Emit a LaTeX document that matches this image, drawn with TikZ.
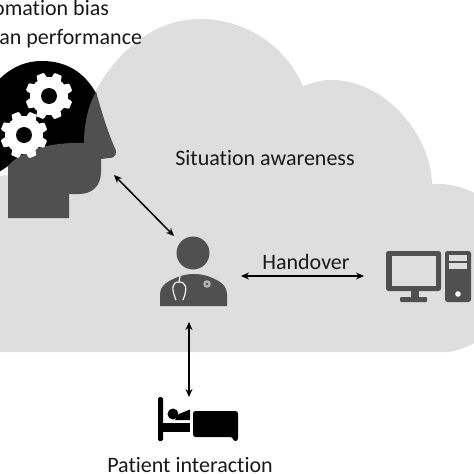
\documentclass[tikz,border=0pt]{standalone}
\usepackage{fontspec}
\setmainfont[Ligatures=NoCommon]{Carlito}
\usetikzlibrary{arrows.meta}
\definecolor{cloudgray}{HTML}{DEDEDE}
\definecolor{icongray}{HTML}{505050}
\tikzset{
  label text/.style={font=\fontsize{22}{26}\selectfont,text=black!90,inner sep=0pt,outer sep=0pt},
  link/.style={line width=1.5pt,{Stealth[length=8pt,width=7pt]}-{Stealth[length=8pt,width=7pt]},black},
  anchor pt/.style={inner sep=0pt,outer sep=0pt,minimum size=0pt}
}
\newcommand{\geargly}[2]{%
  \fill[white] (#1,#2) circle[radius=19];
  \foreach \a in {0,45,...,315}{
    \fill[white,rounded corners=1pt,rotate around={\a+22:(#1,#2)}] (#1-5.5,#2-15) -- (#1-4,#2-23.5) -- (#1+4,#2-23.5) -- (#1+5.5,#2-15) -- cycle;
  }
  \fill[black] (#1,#2) circle[radius=8];
}
\begin{document}
\begin{tikzpicture}[x=1pt,y=-1pt]
\useasboundingbox (0,0) rectangle (474,474);
\clip (0,0) rectangle (474,474);
% cloud
\fill[cloudgray] (-5,352) -- (447,352)
  .. controls (458,351) and (468,347) .. (480,340)
  -- (480,196)
  .. controls (465,187) and (448,183) .. (432,184)
  .. controls (431,135) and (385,79) .. (330,80)
  .. controls (321,80) and (312,83) .. (303,86)
  .. controls (285,45) and (245,19) .. (200,19)
  .. controls (155,19) and (118,50) .. (95,92)
  -- (60,172) -- (-5,176) -- cycle;
% head
\fill[black] (-10,178) -- (-10,90) .. controls (5,70) and (22,61) .. (42,61)
  .. controls (66,61) and (85,72) .. (97,95)
  -- (90,150) -- (40,150) -- (8,166) -- cycle;
\fill[icongray] (96,92) .. controls (100,105) and (105,125) .. (114,146)
  .. controls (118,153) and (116,158) .. (109,158)
  -- (101,159) -- (101,172)
  .. controls (101,186) and (92,194) .. (79,194)
  -- (69,194) -- (69,218) -- (8,218) -- (8,166)
  .. controls (22,150) and (50,142) .. (84,143)
  .. controls (84,125) and (88,105) .. (96,92) -- cycle;
\geargly{49}{96}
\geargly{24}{135}
% doctor
\node[anchor pt] (doctor) at (193,276) {};
\fill[icongray] (193,253) circle[radius=16.5];
\fill[icongray] (160,306) -- (160,295) .. controls (160,285) and (168,281) .. (178,277)
  .. controls (188,273) and (200,273) .. (210,277)
  .. controls (220,281) and (227,285) .. (227,295) -- (227,306) -- cycle;
\draw[white,line width=1.1pt] (176,300) .. controls (171,288) and (172,282) .. (179,282)
  .. controls (186,282) and (188,288) .. (183,300);
\draw[white,line width=1.1pt] (179,282) -- (180,276);
\fill[cloudgray!70!icongray] (207,284) circle[radius=3.8];
\fill[icongray] (207,284) circle[radius=1.4];
% computer
\node[anchor pt] (computer) at (386,276) {};
\fill[icongray,rounded corners=2.5pt] (386,251) rectangle (441,291);
\fill[cloudgray] (392,256) rectangle (436,286);
\fill[icongray] (411,291) rectangle (419,298);
\fill[icongray,rounded corners=1pt] (400,297) rectangle (427,302);
\fill[icongray,rounded corners=2.5pt] (445,251) rectangle (471,302);
\fill[cloudgray] (449,254.5) rectangle (467,260.5);
\fill[cloudgray] (449,263) rectangle (467,269);
\fill[white] (458,294) circle[radius=2.8];
% bed
\node[anchor pt] (bed) at (189,404) {};
\fill[black,rounded corners=1.5pt] (158,397) rectangle (163,441);
\fill[black] (160,423) rectangle (190,432);
\fill[black] (173,414) circle[radius=5.5];
\fill[black] (175,420) -- (179,414) -- (190,409.5) -- (190,420) -- cycle;
\fill[black,rounded corners=2.5pt] (193,411) -- (238,411) -- (238,441) -- (233,441) -- (233,437) -- (193,437) -- cycle;
% labels
\node[label text,anchor=base east] (bias) at (109,15.5) {omation bias};
\node[label text,anchor=base east] (perf) at (142,44) {an performance};
\node[label text,anchor=base] (sa) at (265,165) {Situation awareness};
\node[label text,anchor=base] (hand) at (306,269) {Handover};
\node[label text,anchor=base] (patient) at (190,472) {Patient interaction};
% connectors
\coordinate (headpt) at (114,175);
\coordinate (docpt) at (174,236);
\coordinate (docright) at (241,276);
\coordinate (comppt) at (364,276);
\coordinate (docdown) at (189,322);
\coordinate (bedpt) at (189,397);
\draw[link] (headpt) -- (docpt);
\draw[link] (docright) -- (comppt);
\draw[link] (docdown) -- (bedpt);
\end{tikzpicture}
\end{document}
